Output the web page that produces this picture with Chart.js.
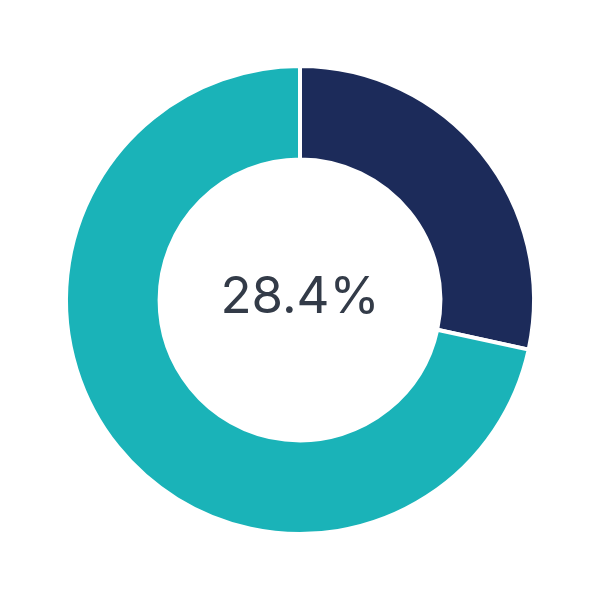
<!DOCTYPE html>
<html><head><meta charset="utf-8">
<script src="https://cdn.jsdelivr.net/npm/chart.js@4"></script>
<style>html,body{margin:0;padding:0;background:#fff}#wrap{width:600px;height:600px}</style>
</head><body><div id="wrap"><canvas id="c"></canvas></div>
<script>
const categories = ["Share", "Rest"];
const values = [28.4, 71.6];
const colors = ["#1c2b5a", "#1ab3b8"];
const centerLabel = "28.4%";

const centerText = {
  id: 'centerText',
  afterDraw(chart) {
    const {ctx} = chart;
    const a = chart.getDatasetMeta(0).data[0];
    ctx.save();
    ctx.font = '400 51px Inter, "Open Sans", sans-serif';
    ctx.fillStyle = '#333b48';
    ctx.textAlign = 'center';
    ctx.textBaseline = 'middle';
    ctx.fillText(centerLabel, a.x, a.y - 2);
    ctx.restore();
  }
};

new Chart(document.getElementById('c'), {
  type: 'doughnut',
  data: { labels: categories, datasets: [{ data: values, backgroundColor: colors, borderColor: '#fff', borderWidth: 4 }] },
  options: {
    responsive: true, maintainAspectRatio: false, animation: false,
    cutout: '60%',
    layout: { padding: 64 },
    plugins: { legend: { display: false }, tooltip: { enabled: false } }
  },
  plugins: [centerText]
});
</script></body></html>
